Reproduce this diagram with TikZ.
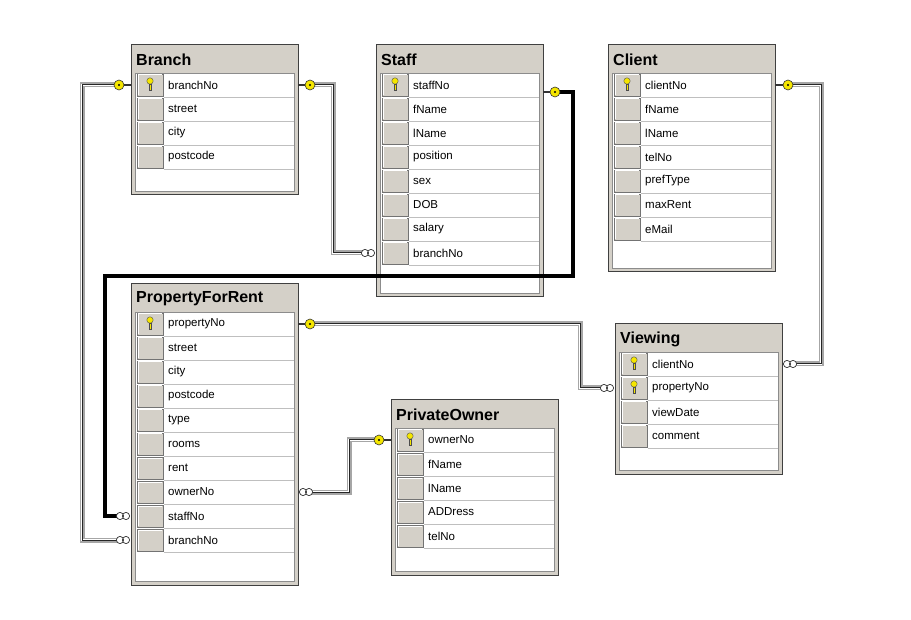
\documentclass[tikz,border=0pt]{standalone}
\usepackage{fontspec}
\setmainfont{Liberation Sans}
\begin{document}
\definecolor{btn}{HTML}{D4D0C8}
\definecolor{keyy}{HTML}{F5E600}
\begin{tikzpicture}[x=1pt,y=-1pt,
  frame/.style={draw=black!75,fill=btn,line width=1pt},
  conn/.style={draw=gray!70,line width=5pt,postaction={draw=white,line width=2.6pt},postaction={draw=black!85,line width=1pt}},
  selconn/.style={draw=black,line width=4pt},
  rowtxt/.style={anchor=west,font=\fontsize{11.5}{12}\selectfont,inner sep=0pt},
  ttl/.style={anchor=west,font=\bfseries\fontsize{16}{17}\selectfont,inner sep=0pt}]
\useasboundingbox (0,0) rectangle (911,620);
\newcommand\dbtable[7]{%
  \draw[frame] (#2,#3) rectangle ++(167,#4);
  \coordinate (#1) at (#2,#3);
  \node[ttl] (#1-t) at ({#2+5},{#3+15}) {#5};
  \draw[fill=white,draw=black!45] ({#2+4},{#3+28}) rectangle ({#2+163},{#3+#4-4});
  \foreach \r [count=\i] in {#6}{
    \pgfmathsetmacro\yc{#3+40+24*(\i-1)}
    \draw[fill=btn,draw=black!55] ({#2+6},{\yc-11}) rectangle ({#2+32},{\yc+11});
    \draw[white,line width=1pt] ({#2+7},{\yc+10}) -- ({#2+7},{\yc-10}) -- ({#2+31},{\yc-10});
    \draw[black!25] ({#2+33},{\yc+12}) -- ({#2+163},{\yc+12});
    \node[rowtxt] (#1-\i) at ({#2+37},\yc) {\r};
    \coordinate (#1-\i-w) at (#2,\yc);
    \coordinate (#1-\i-e) at ({#2+167},\yc);
    \ifnum\i>#7\else
      \fill[keyy,draw=black!70,line width=.4pt] ({#2+19},{\yc-4}) circle (3.2);
      \fill[keyy,draw=black!70,line width=.4pt] ({#2+18},{\yc-1}) rectangle ({#2+20},{\yc+5});
    \fi
  }}
\newcommand\pkey[2]{%
  \draw[black!80,line width=1.5pt] #1 -- #2;
  \fill[keyy,draw=black!80,line width=.6pt] #1 circle (5);
  \fill[black] #1 circle (1.2);}
\newcommand\many[2]{%
  \draw[black!80,fill=white,line width=.7pt] #1 circle (3.6) ++(#2,0) circle (3.6);}
% tables
\dbtable{br}{131}{45}{150}{Branch}{branchNo,street,city,postcode}{1}
\dbtable{st}{376}{45}{252}{Staff}{staffNo,fName,lName,position,sex,DOB,salary,branchNo}{1}
\dbtable{cl}{608}{45}{227}{Client}{clientNo,fName,lName,telNo,prefType,maxRent,eMail}{1}
\dbtable{pf}{131}{284}{301}{PropertyForRent}{propertyNo,street,city,postcode,type,rooms,rent,ownerNo,staffNo,branchNo}{1}
\dbtable{po}{391}{400}{175}{PrivateOwner}{ownerNo,fName,lName,ADDress,telNo}{1}
\dbtable{vw}{615}{324}{150}{Viewing}{clientNo,propertyNo,viewDate,comment}{2}
% connectors
\draw[conn] ([xshift=-13]br-1-w) -- ++(-36,0) |- ([xshift=-14]pf-10-w);
\draw[conn] ([xshift=13]br-1-e) -- ++(22,0) |- ([xshift=-14]st-8-w);
\draw[selconn] ([xshift=12,yshift=-7]st-1-e) -- ++(18,0) |- (105,276) |- ([xshift=-14]pf-9-w);
\draw[conn] ([xshift=14]cl-1-e) -- ++(32,0) |- ([xshift=14]vw-1-e);
\draw[conn] ([xshift=13]pf-1-e) -- ++(269,0) |- ([xshift=-14]vw-2-w);
\draw[conn] ([xshift=-13]po-1-w) -- ++(-29,0) |- ([xshift=14]pf-8-e);
% ends
\pkey{([xshift=-12]br-1-w)}{(br-1-w)}
\pkey{([xshift=12]br-1-e)}{(br-1-e)}
\pkey{([xshift=12,yshift=-7]st-1-e)}{([yshift=-7]st-1-e)}
\pkey{([xshift=13]cl-1-e)}{(cl-1-e)}
\pkey{([xshift=12]pf-1-e)}{(pf-1-e)}
\pkey{([xshift=-12]po-1-w)}{(po-1-w)}
\many{([xshift=-11]pf-10-w)}{6}
\many{([xshift=-11]pf-9-w)}{6}
\many{([xshift=-11]st-8-w)}{6}
\many{([xshift=-11]vw-2-w)}{6}
\many{([xshift=5]vw-1-e)}{6}
\many{([xshift=5]pf-8-e)}{6}
\end{tikzpicture}
\end{document}
